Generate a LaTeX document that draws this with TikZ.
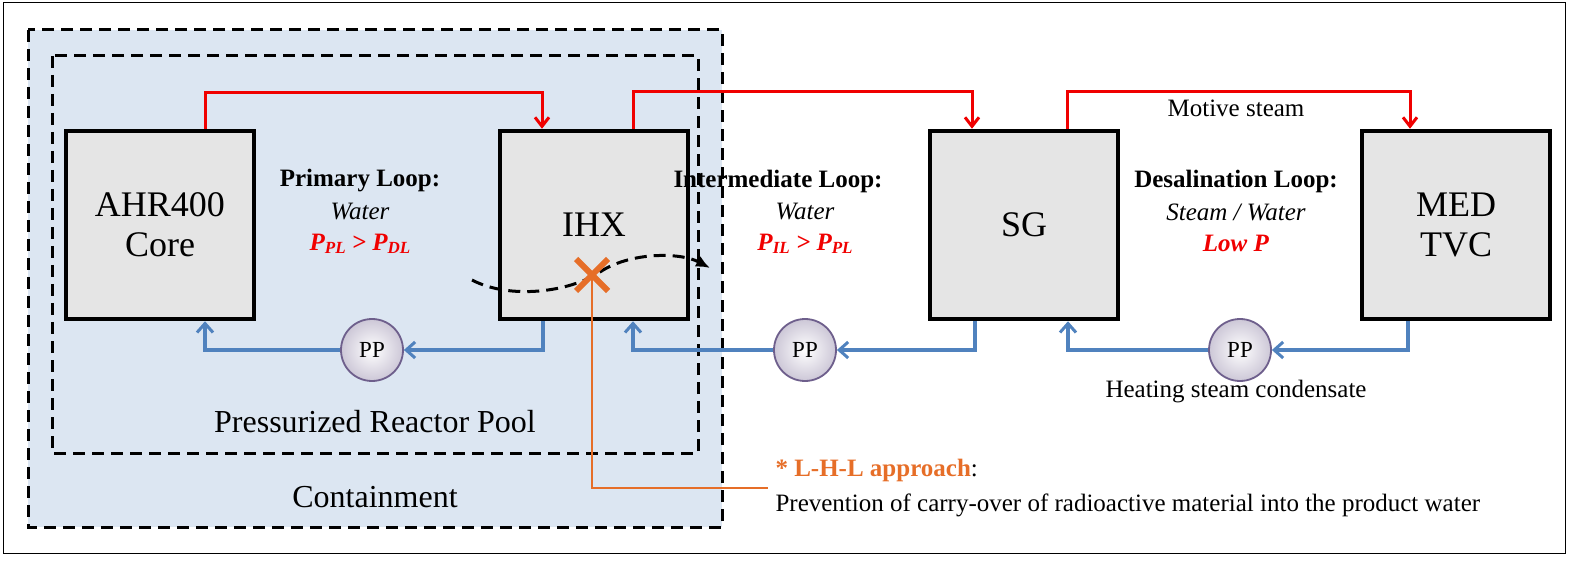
\documentclass[tikz,border=0pt]{standalone}
\usepackage{fontspec}
\setmainfont{Liberation Serif}
\usetikzlibrary{arrows.meta,calc}
\definecolor{pool}{RGB}{220,230,242}
\definecolor{redl}{RGB}{240,0,0}
\definecolor{bluel}{RGB}{80,130,190}
\definecolor{orng}{RGB}{230,110,40}
\definecolor{pprim}{RGB}{110,95,140}
\newcommand{\sbs}[1]{\raisebox{-0.3ex}{\fontsize{17}{18}\selectfont #1}}
\begin{document}
\begin{tikzpicture}[x=1pt,y=-1pt,
  box/.style={draw=black,line width=4.5pt,fill=gray!20,minimum width=188pt,minimum height=188pt,inner sep=0pt,font=\fontsize{36}{40}\selectfont\rmfamily,align=center},
  pp/.style={circle,draw=pprim,line width=1.8pt,inner color=white,outer color=pprim!35,minimum size=62pt,inner sep=0pt,font=\fontsize{23}{24}\selectfont},
  hot/.style={draw=redl,line width=3pt,-{Straight Barb[length=9pt,width=14pt,line width=3pt]}},
  cold/.style={draw=bluel,line width=3.5pt,-{Straight Barb[length=9pt,width=16pt,line width=3pt]}},
  lbl/.style={font=\fontsize{25}{27}\selectfont,align=center},
  dsh/.style={draw=black,line width=3pt,dash pattern=on 12pt off 7pt}]
\useasboundingbox (0,0) rectangle (1577,561);
\draw[line width=1pt] (3,3) rectangle (1565,553);
\fill[pool] (28,30) rectangle (722,527);
\draw[dsh] (28,30) rectangle (722,527);
\draw[dsh] (52,56) rectangle (698,453);
\node[box] (ahr) at (160,225) {AHR400\\Core};
\node[box] (ihx) at (594,225) {IHX};
\node[box] (sg) at (1024,225) {SG};
\node[box] (med) at (1456,225) {MED\\TVC};
\node[pp] (pp1) at (372,350) {PP};
\node[pp] (pp2) at (805,350) {PP};
\node[pp] (pp3) at (1240,350) {PP};
\coordinate (a1) at (205,93); \coordinate (a2) at (542,93);
\coordinate (b1) at (633,92); \coordinate (b2) at (972,92);
\coordinate (c1) at (1067,92); \coordinate (c2) at (1410,92);
\draw[hot] (ahr.north -| a1) -- (a1) -- (a2) -- (ihx.north -| a2);
\draw[hot] (ihx.north -| b1) -- (b1) -- (b2) -- (sg.north -| b2);
\draw[hot] (sg.north -| c1) -- (c1) -- (c2) -- (med.north -| c2);
\coordinate (d1) at (543,350); \coordinate (d2) at (205,350);
\coordinate (e1) at (975,350); \coordinate (e2) at (633,350);
\coordinate (f1) at (1408,350); \coordinate (f2) at (1068,350);
\draw[cold] (ihx.south -| d1) -- (d1) -- (pp1);
\draw[cold] (pp1) -- (d2) -- (ahr.south -| d2);
\draw[cold] (sg.south -| e1) -- (e1) -- (pp2);
\draw[cold] (pp2) -- (e2) -- (ihx.south -| e2);
\draw[cold] (med.south -| f1) -- (f1) -- (pp3);
\draw[cold] (pp3) -- (f2) -- (sg.south -| f2);
\node[lbl] (t1) at (360,181) {\textbf{Primary Loop:}};
\node[lbl] (t1b) at (360,212) {\textit{Water}};
\node[lbl,text=redl] (t1c) at (360,244) {\textbf{\textit{P\sbs{PL} > P\sbs{DL}}}};
\node[lbl] (t2) at (778,181) {\textbf{Intermediate Loop:}};
\node[lbl] (t2b) at (805,212) {\textit{Water}};
\node[lbl,text=redl] (t2c) at (805,244) {\textbf{\textit{P\sbs{IL} > P\sbs{PL}}}};
\node[lbl] (t3) at (1236,181) {\textbf{Desalination Loop:}};
\node[lbl] (t3b) at (1236,212) {\textit{Steam / Water}};
\node[lbl,text=redl] (t3c) at (1236,243) {\textbf{\textit{Low P}}};
\node[lbl] (ms) at (1236,108) {Motive steam};
\node[lbl] (hc) at (1236,392) {Heating steam condensate};
\node[font=\fontsize{32}{34}\selectfont] (prp) at (375,422) {Pressurized Reactor Pool};
\node[font=\fontsize{32}{34}\selectfont] (cont) at (375,497) {Containment};
\coordinate (s1) at (472,280); \coordinate (s2) at (710,268);
\draw[dsh,-{Latex[length=14pt,width=12pt]}] (s1) .. controls (510,300) and (570,292) .. (600,272) .. controls (630,252) and (680,252) .. (s2);
\coordinate (x) at (592,275);
\coordinate (xl) at (592,488); \coordinate (xr) at (768,488);
\draw[orng,line width=2pt] (x) -- (xl) -- (xr);
\draw[orng,line width=6pt] ($(x)+(-16,-16)$) -- ($(x)+(16,16)$) ($(x)+(16,-16)$) -- ($(x)+(-16,16)$);
\node[lbl,anchor=west] (lhl) at (772,470) {\textcolor{orng}{\textbf{* L-H-L approach}}:};
\node[lbl,anchor=west] (prev) at (772,505) {Prevention of carry-over of radioactive material into the product water};
\end{tikzpicture}
\end{document}
